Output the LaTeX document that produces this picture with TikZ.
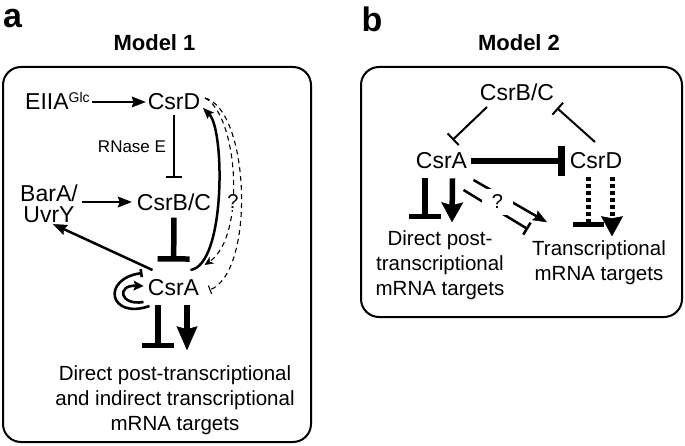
\documentclass[tikz,border=0pt]{standalone}
\usepackage{fontspec}
\setmainfont{Liberation Sans}
\usetikzlibrary{arrows.meta,calc}
\begin{document}
\begin{tikzpicture}[x=1pt,y=-1pt,
  lbl/.style={font=\fontsize{23}{21}\selectfont, inner sep=2pt},
  tgt/.style={font=\fontsize{20.5}{25}\selectfont, align=center, inner sep=2pt},
  ttl/.style={font=\bfseries\fontsize{22}{22}\selectfont},
  pnl/.style={font=\bfseries\fontsize{34}{34}\selectfont},
  frame/.style={draw, line width=2pt, rounded corners=18pt},
  act/.style={line width=2.5pt, -{Stealth[length=14pt,width=11pt,inset=2pt,line width=0.5pt]}},
  inh/.style={line width=2pt, -{Bar[width=16pt]}},
  actB/.style={line width=5.5pt, -{Stealth[length=24pt,width=21pt,inset=3pt,line width=0.5pt]}},
  inhB/.style={line width=5.5pt, -{Bar[width=32pt]}},
  dsh/.style={line width=1.1pt, dash pattern=on 5pt off 4pt},
  dshB/.style={line width=5pt, dash pattern=on 4pt off 3pt},
  qm/.style={font=\fontsize{20}{20}\selectfont, fill=white}]
\useasboundingbox (0,0) rectangle (685,446);
% Model 1
\node[pnl] (labA) at (12.5,19) {a};
\node[ttl] (ttlA) at (154.5,43) {Model 1};
\draw[frame] (3,67) rectangle (311,442);
\node[lbl, anchor=west] (eiia) at (23,102) {EIIA\smash{\raisebox{7pt}{\fontsize{14}{14}\selectfont Glc}}};
\node[lbl] (csrD) at (174,102) {CsrD};
\node[font=\fontsize{17}{17}\selectfont] (rnase) at (132,147) {RNase E};
\node[lbl, align=center] (barA) at (49,204) {BarA/\\UvrY};
\node[lbl] (csrBC) at (174,202) {CsrB/C};
\node[lbl] (csrA) at (173.5,288) {CsrA};
\node[tgt] (tgtA) at (175,400) {Direct post-transcriptional\\and indirect transcriptional\\mRNA targets};
\draw[act] (eiia.east |- csrD) -- (csrD);
\draw[inh, shorten <=3pt, shorten >=13pt] (csrD.south) -- (csrBC.north);
\draw[act, shorten <=2pt, shorten >=3pt] (barA.east |- csrBC) -- (csrBC.west);
\draw[inhB, shorten <=5pt, shorten >=16pt] (csrBC.south) -- (csrA.north);
\draw[act] ($(csrA)+(-21,-18)$) -- ($(barA.south)+(4,-1)$);
\draw[line width=2.5pt, -{Stealth[length=11pt,width=9pt,inset=2pt,line width=0.5pt]}] ($(csrA)+(17,-18)$) .. controls +(35,-5) and +(22,22) .. ($(csrD)+(29,6)$);
\draw[dsh, -{Stealth[length=9pt,width=8pt,line width=0.5pt]}] ($(csrD)+(31,-4)$) .. controls +(33,17) and +(42,-28) .. ($(csrA)+(31,-23)$);
\draw[dsh, -{Bar[width=9pt]}] ($(csrD)+(31,-4)$) .. controls +(45,12) and +(46,-18) .. ($(csrA)+(36,2)$);
\node[qm, inner sep=1pt] (qA) at (233,202) {?};
% self loop
\draw[line width=2.6pt, -{Bar[width=8pt]}] ($(csrA)+(-24,18)$) .. controls +(-40,14) and +(-42,6) .. ($(csrA)+(-31,-15)$);
\draw[line width=2.6pt, -{Stealth[length=10pt,width=10pt,inset=2pt,line width=0.5pt]}] ($(csrA)+(-30,14)$) .. controls +(-24,4) and +(-27,-1) .. ($(csrA)+(-30,-2)$);
\draw[inhB] ($(csrA.south)+(-15.5,7)$) -- ($(tgtA.north)+(-17,-15)$);
\draw[actB] ($(csrA.south)+(13.5,7)$) -- ($(tgtA.north)+(12,-13)$);
% Model 2
\node[pnl] (labB) at (372,19) {b};
\node[ttl] (ttlB) at (519,43) {Model 2};
\draw[frame] (361,67) rectangle (682,317);
\node[lbl] (csrBC2) at (517,92) {CsrB/C};
\node[lbl] (csrA2) at (441.5,161) {CsrA};
\node[lbl] (csrD2) at (596,161) {CsrD};
\node[tgt] (tgtB1) at (440,265) {Direct post-\\transcriptional\\mRNA targets};
\node[tgt] (tgtB2) at (599,262.5) {Transcriptional\\mRNA targets};
\draw[inh] ($(csrBC2)+(-30,15)$) -- ($(csrA2)+(11,-21)$);
\draw[inh] ($(csrD2)+(-1,-19)$) -- ($(csrBC2)+(40,16)$);
\draw[line width=6.5pt, -{Bar[width=30pt]}, shorten <=2pt, shorten >=3pt] (csrA2) -- (csrD2);
\draw[inhB] ($(csrA2.south)+(-16.5,7)$) -- ($(tgtB1.north)+(-15,-9)$);
\draw[line width=5.5pt, -{Stealth[length=20pt,width=22pt,inset=3pt,line width=0.5pt]}] ($(csrA2.south)+(11,7)$) -- ($(tgtB1.north)+(12,-6)$);
\draw[act] ($(csrA2)+(32,19)$) -- ($(tgtB2.north)+(-52,-16)$);
\draw[line width=2.5pt, -{Bar[width=14pt]}] ($(csrA2)+(22,29)$) -- ($(tgtB2.north)+(-71,-9)$);
\node[qm, minimum width=31pt, minimum height=26pt, inner sep=0pt] (qB) at (497.5,202) {?};
\draw[dshB, -{Bar[width=31pt]}] ($(csrD2.south)+(-8,6)$) -- ($(tgtB2.north)+(-11,-11)$);
\draw[dshB, -{Stealth[length=20pt,width=22pt,inset=2pt,line width=0.5pt]}] ($(csrD2.south)+(16,6)$) -- ($(tgtB2.north)+(13,-2)$);
\end{tikzpicture}
\end{document}
